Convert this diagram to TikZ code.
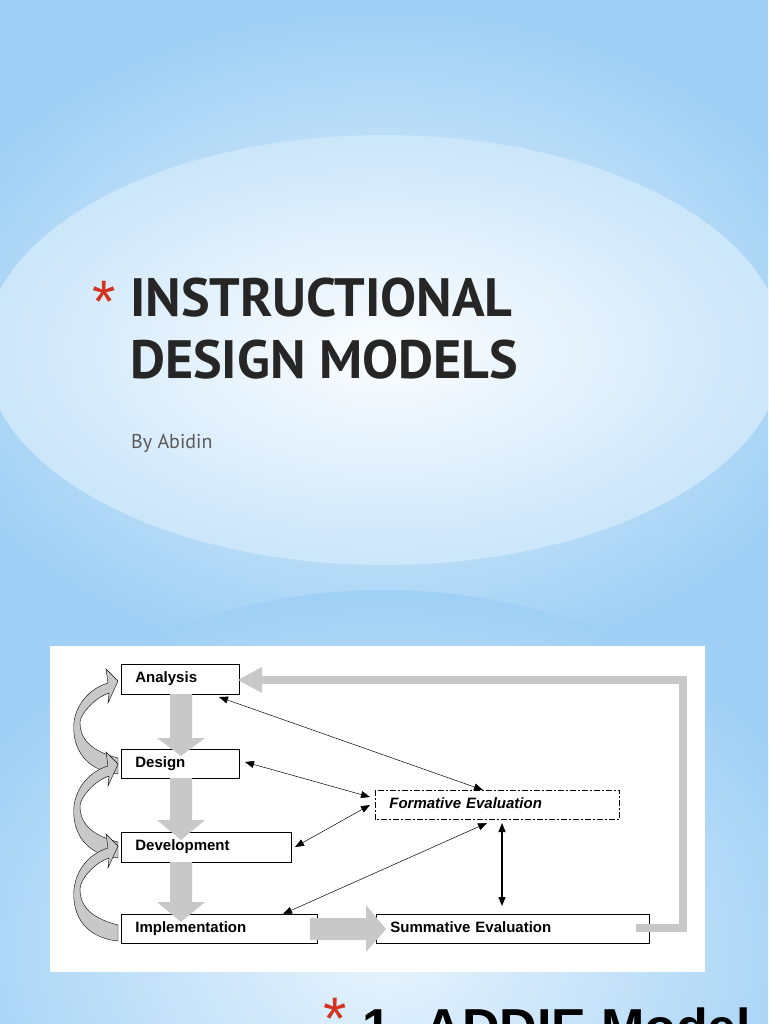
\documentclass[tikz,border=0pt]{standalone}
\usepackage{fontspec}
\setmainfont{Liberation Sans}
\newfontfamily\ttl{PT Sans}
\usetikzlibrary{arrows.meta}
\definecolor{bgb}{RGB}{160,208,245}
\definecolor{bgl}{RGB}{232,244,253}
\definecolor{flow}{RGB}{200,200,200}
\definecolor{star}{RGB}{210,50,30}
\begin{document}
\begin{tikzpicture}[x=1pt,y=-1pt,
  box/.style={draw,thick,inner xsep=14pt,inner ysep=0pt,anchor=north west,font=\bfseries\fontsize{15}{15}\selectfont,text height=10pt,text depth=3pt,align=left},
  thin/.style={{Triangle[length=9pt,width=7pt]}-{Triangle[length=9pt,width=7pt]},line width=0.5pt}]
\useasboundingbox (0,0) rectangle (768,1024);
\clip (0,0) rectangle (768,1024);
\fill[bgb] (0,0) rectangle (768,1024);
\shade[inner color=bgl,outer color=bgb] (384,340) ellipse (470 and 330);
\shade[inner color=white!85!bgl,outer color=bgl!60!bgb] (384,350) ellipse (400 and 215);
\shade[inner color=bgl,outer color=bgb] (384,950) ellipse (470 and 360);
\node[text=star,font=\fontsize{60}{60}\selectfont] (ast) at (104,302) {*};
\node[anchor=north west,align=left,font=\ttl\bfseries\fontsize{54}{62}\selectfont,text=black!85,inner sep=0pt] (title) at (130,278) {INSTRUCTIONAL\\DESIGN MODELS};
\node[anchor=west,font=\ttl\fontsize{20}{20}\selectfont,text=black!65,inner sep=0pt] (by) at (131,443) {By Abidin};
\fill[white] (50,646) rectangle (705,972);
% boxes
\node[box,text width=90pt,minimum height=30pt] (an) at (121,664) {Analysis};
\node[box,text width=90pt,minimum height=29pt] (de) at (121,749) {Design};
\node[box,text width=142pt,minimum height=30pt] (dv) at (121,832) {Development};
\node[box,text width=168pt,minimum height=29pt] (im) at (121,914) {Implementation};
\node[box,text width=245pt,minimum height=29pt] (su) at (376,914) {Summative Evaluation};
\node[box,draw=none,text width=216pt,minimum height=29pt,font=\bfseries\itshape\fontsize{15}{15}\selectfont] (fo) at (375,790) {Formative Evaluation};
\draw[thick,dash pattern=on 6pt off 2pt on 2pt off 2pt] (fo.north west) rectangle (fo.south east);
% gray down arrows
\fill[flow] (170,694) -- (192,694) -- (192,738) -- (205,738) -- (181,756) -- (157,738) -- (170,738) -- cycle;
\fill[flow] (170,778) -- (192,778) -- (192,820) -- (205,820) -- (181,840) -- (157,820) -- (170,820) -- cycle;
\fill[flow] (170,862) -- (192,862) -- (192,902) -- (205,902) -- (181,922) -- (157,902) -- (170,902) -- cycle;
\fill[flow] (310,918) -- (366,918) -- (366,905) -- (386,929) -- (366,952) -- (366,940) -- (310,940) -- cycle;
% feedback loop
\coordinate (fb1) at (683,928);
\coordinate (fb2) at (683,680);
\draw[flow,line width=8pt] (636,928) -- (fb1) -- (fb2) -- (262,680);
\fill[flow] (238,680) -- (262,667) -- (262,693) -- cycle;
% thin arrows
\draw[thin] (219,697) -- (483,790);
\draw[thin] (245,762) -- (370,797);
\draw[thin] (295,847) -- (370,805);
\draw[thin] (283,914) -- (487,823);
\draw[{Triangle[length=9pt,width=7pt]}-{Triangle[length=9pt,width=7pt]},line width=1.2pt] (502,823) -- (502,906);
% left curved arrows
\foreach \yt/\yb in {681/762,764/846,846/929}{
  \filldraw[fill=flow,draw=black,line width=0.4pt]
    (118,\yb+12) .. controls (80,\yb+8) and (72,\yb-20) .. (74,\yb-40)
    .. controls (76,\yt+25) and (88,\yt+8) .. (108,\yt+2)
    -- (106,\yt-12) -- (118,\yt) -- (108,\yt+22) -- (109,\yt+12)
    .. controls (92,\yt+18) and (80,\yt+35) .. (80,\yb-40)
    .. controls (80,\yb-20) and (95,\yb-10) .. (118,\yb-4) -- cycle;
}
\node[anchor=north west,inner sep=0pt,font=\bfseries\fontsize{52}{52}\selectfont] (addie) at (362,1008) {1. ADDIE Model};
\node[text=star,font=\fontsize{60}{60}\selectfont,anchor=north] (ast2) at (335,995) {*};
\end{tikzpicture}
\end{document}
